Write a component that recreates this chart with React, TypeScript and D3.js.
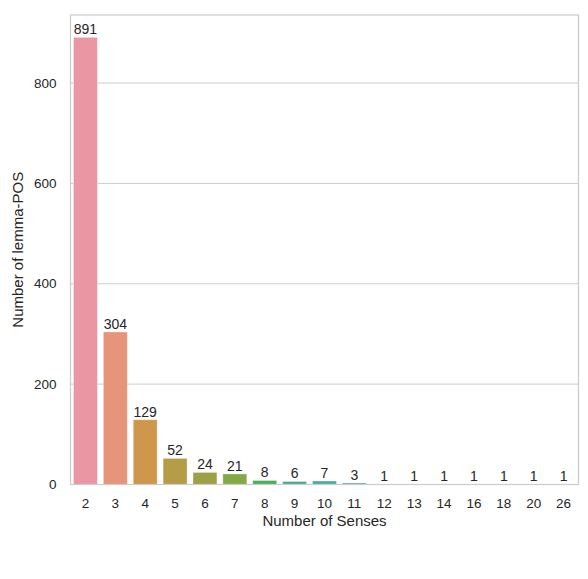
import React from "react";
import * as d3 from "d3";

const senses: string[] = ["2","3","4","5","6","7","8","9","10","11","12","13","14","16","18","20","26"];
const counts: number[] = [891,304,129,52,24,21,8,6,7,3,1,1,1,1,1,1,1];
const yTicks: number[] = [0,200,400,600,800];
const xTitle = "Number of Senses";
const yTitle = "Number of lemma-POS";

// HUSL -> RGB (seaborn's husl)
const M = [
  [3.240969941904521, -1.537383177570093, -0.498610760293],
  [-0.96924363628087, 1.87596750150772, 0.041555057407175],
  [0.055630079696993, -0.20397695888897, 1.056971514242878],
];
const refU = 0.19783000664283, refV = 0.46831999493879;
const kappa = 903.2962962, epsilon = 0.0088564516;
function getBounds(L: number) {
  const out: [number, number][] = [];
  const sub1 = Math.pow(L + 16, 3) / 1560896;
  const sub2 = sub1 > epsilon ? sub1 : L / kappa;
  for (let c = 0; c < 3; c++) {
    const [m1, m2, m3] = M[c];
    for (let t = 0; t < 2; t++) {
      const top1 = (284517 * m1 - 94839 * m3) * sub2;
      const top2 = (838422 * m3 + 769860 * m2 + 731718 * m1) * L * sub2 - 769860 * t * L;
      const bottom = (632260 * m3 - 126452 * m2) * sub2 + 126452 * t;
      out.push([top1 / bottom, top2 / bottom]);
    }
  }
  return out;
}
function maxChroma(L: number, H: number) {
  const hr = (H / 360) * Math.PI * 2;
  let min = Infinity;
  for (const [slope, inter] of getBounds(L)) {
    const len = inter / (Math.sin(hr) - slope * Math.cos(hr));
    if (len >= 0) min = Math.min(min, len);
  }
  return min;
}
function fromLinear(c: number) {
  return c <= 0.0031308 ? 12.92 * c : 1.055 * Math.pow(c, 1 / 2.4) - 0.055;
}
function huslToRgb(H: number, S: number, L: number): [number, number, number] {
  const C = (maxChroma(L, H) / 100) * S;
  const hr = (H / 360) * Math.PI * 2;
  const U = Math.cos(hr) * C, V = Math.sin(hr) * C;
  const varU = U / (13 * L) + refU;
  const varV = V / (13 * L) + refV;
  const Y = L <= 8 ? L / kappa : Math.pow((L + 16) / 116, 3);
  const X = 0 - (9 * Y * varU) / ((varU - 4) * varV - varU * varV);
  const Z = (9 * Y - 15 * varV * Y - varV * X) / (3 * varV);
  const rgb = M.map((r) => fromLinear(r[0] * X + r[1] * Y + r[2] * Z));
  return rgb.map((v) => Math.min(1, Math.max(0, v))) as [number, number, number];
}
function desaturate([r, g, b]: [number, number, number], prop: number) {
  const c = d3.hsl(d3.rgb(r * 255, g * 255, b * 255));
  c.s *= prop;
  return c.formatHex();
}
function palette(n: number) {
  const cols: string[] = [];
  for (let i = 0; i < n; i++) {
    const h = ((i / n + 0.01) % 1) * 359;
    cols.push(desaturate(huslToRgb(h, 0.9 * 99, 0.7 * 99), 0.75));
  }
  return cols;
}

export default function App() {
  const W = 588, H = 579;
  const m = { left: 70.5, right: 578.5, top: 15, bottom: 484.5 };
  const x = d3.scaleBand<string>().domain(senses).range([m.left, m.right]).paddingInner(0.2).paddingOuter(0.1);
  const y = d3.scaleLinear().domain([0, d3.max(counts)! * 1.05]).range([m.bottom, m.top]);
  const colors = palette(senses.length);
  const txt = "#262626";
  const font = "'Liberation Sans', Arial, sans-serif";
  return (
    <svg width={W} height={H} style={{ position: "absolute", left: 0, top: 0 }} fontFamily={font}>
      <rect width={W} height={H} fill="#fff" />
      {yTicks.map((t) => (
        <g key={t}>
          <line x1={m.left} x2={m.right} y1={y(t)} y2={y(t)} stroke="#cccccc" strokeWidth={1} />
          <text x={m.left - 14} y={y(t)} dy="0.35em" textAnchor="end" fontSize={13.5} fill={txt}>{t}</text>
        </g>
      ))}
      {senses.map((s, i) => (
        <g key={s}>
          <rect x={x(s)} y={y(counts[i])} width={x.bandwidth()} height={m.bottom - y(counts[i])} fill={colors[i]} stroke="#ffffff" strokeOpacity={0.4} strokeWidth={0.8} />
          <text x={x(s)! + x.bandwidth() / 2} y={y(counts[i]) - 3} textAnchor="middle" fontSize={14} fill={txt}>{counts[i]}</text>
          <text x={x(s)! + x.bandwidth() / 2} y={503} dy="0.35em" textAnchor="middle" fontSize={13.5} fill={txt}>{s}</text>
        </g>
      ))}
      <rect x={m.left} y={m.top} width={m.right - m.left} height={m.bottom - m.top} fill="none" stroke="#cccccc" strokeWidth={1.25} />
      <text x={(m.left + m.right) / 2} y={521} dy="0.35em" textAnchor="middle" fontSize={15} fill={txt}>{xTitle}</text>
      <text transform={`translate(18,${(m.top + m.bottom) / 2}) rotate(-90)`} dy="0.35em" textAnchor="middle" fontSize={15} fill={txt}>{yTitle}</text>
    </svg>
  );
}
